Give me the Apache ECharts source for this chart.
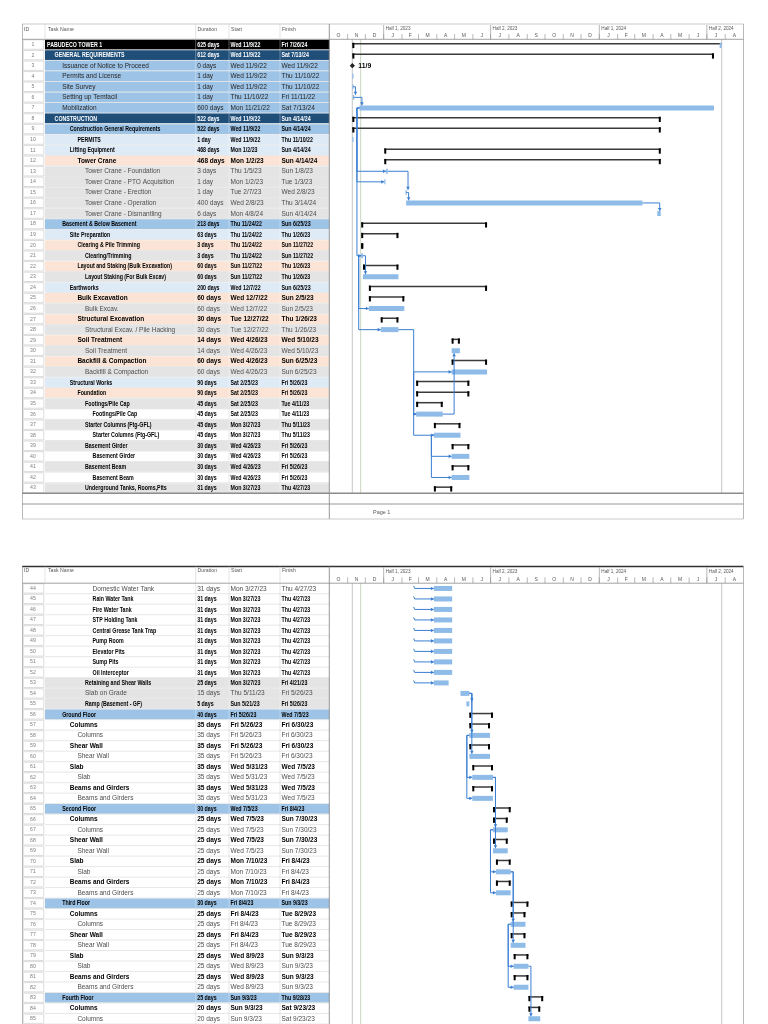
<!DOCTYPE html>
<html><head><meta charset="utf-8">
<script src="https://cdn.jsdelivr.net/npm/echarts@6/dist/echarts.min.js"></script>
<style>html,body{margin:0;padding:0;background:#fff}#c{width:768px;height:1024px}</style>
</head><body><div id="c"></div>
<script>
// ---------------- DATA ----------------
const taskIds = [1,2,3,4,5,6,7,8,9,10,11,12,13,14,15,16,17,18,19,20,21,22,23,24,25,26,27,28,29,30,31,32,33,34,35,36,37,38,39,40,41,42,43,44,45,46,47,48,49,50,51,52,53,54,55,56,57,58,59,60,61,62,63,64,65,66,67,68,69,70,71,72,73,74,75,76,77,78,79,80,81,82,83,84,85];
const taskNames = ['PABUDECO TOWER 1','GENERAL REQUIREMENTS','Issuance of Notice to Proceed','Permits and License','Site Survey','Setting up Temfacil','Mobilization','CONSTRUCTION','Construction General Requirements','PERMITS','Lifting Equipment','Tower Crane','Tower Crane - Foundation','Tower Crane - PTO Acquisition','Tower Crane - Erection','Tower Crane - Operation','Tower Crane - Dismantling','Basement & Below Basement','Site Preparation','Clearing & Pile Trimming','Clearing/Trimming','Layout and Staking (Bulk Excavation)','Layout Staking (For Bulk Excav)','Earthworks','Bulk Excavation','Bulk Excav.','Structural Excavation','Structural Excav. / Pile Hacking','Soil Treatment','Soil Treatment','Backfill & Compaction','Backfill & Compaction','Structural Works','Foundation','Footings/Pile Cap','Footings/Pile Cap','Starter Columns (Ftg-GFL)','Starter Columns (Ftg-GFL)','Basement Girder','Basement Girder','Basement Beam','Basement Beam','Underground Tanks, Rooms,Pits','Domestic Water Tank','Rain Water Tank','Fire Water Tank','STP Holding Tank','Central Grease Tank Trap','Pump Room','Elevator Pits','Sump Pits','Oil Interceptor','Retaining and Shear Walls','Slab on Grade','Ramp (Basement - GF)','Ground Floor','Columns','Columns','Shear Wall','Shear Wall','Slab','Slab','Beams and Girders','Beams and Girders','Second Floor','Columns','Columns','Shear Wall','Shear Wall','Slab','Slab','Beams and Girders','Beams and Girders','Third Floor','Columns','Columns','Shear Wall','Shear Wall','Slab','Slab','Beams and Girders','Beams and Girders','Fourth Floor','Columns','Columns'];
const durations = ['625 days','612 days','0 days','1 day','1 day','1 day','600 days','522 days','522 days','1 day','468 days','468 days','3 days','1 day','1 day','400 days','6 days','213 days','63 days','3 days','3 days','60 days','60 days','200 days','60 days','60 days','30 days','30 days','14 days','14 days','60 days','60 days','90 days','90 days','45 days','45 days','45 days','45 days','30 days','30 days','30 days','30 days','31 days','31 days','31 days','31 days','31 days','31 days','31 days','31 days','31 days','31 days','25 days','15 days','5 days','40 days','35 days','35 days','35 days','35 days','35 days','35 days','35 days','35 days','30 days','25 days','25 days','25 days','25 days','25 days','25 days','25 days','25 days','30 days','25 days','25 days','25 days','25 days','25 days','25 days','25 days','25 days','25 days','20 days','20 days'];
const startText = ['Wed 11/9/22','Wed 11/9/22','Wed 11/9/22','Wed 11/9/22','Wed 11/9/22','Thu 11/10/22','Mon 11/21/22','Wed 11/9/22','Wed 11/9/22','Wed 11/9/22','Mon 1/2/23','Mon 1/2/23','Thu 1/5/23','Mon 1/2/23','Tue 2/7/23','Wed 2/8/23','Mon 4/8/24','Thu 11/24/22','Thu 11/24/22','Thu 11/24/22','Thu 11/24/22','Sun 11/27/22','Sun 11/27/22','Wed 12/7/22','Wed 12/7/22','Wed 12/7/22','Tue 12/27/22','Tue 12/27/22','Wed 4/26/23','Wed 4/26/23','Wed 4/26/23','Wed 4/26/23','Sat 2/25/23','Sat 2/25/23','Sat 2/25/23','Sat 2/25/23','Mon 3/27/23','Mon 3/27/23','Wed 4/26/23','Wed 4/26/23','Wed 4/26/23','Wed 4/26/23','Mon 3/27/23','Mon 3/27/23','Mon 3/27/23','Mon 3/27/23','Mon 3/27/23','Mon 3/27/23','Mon 3/27/23','Mon 3/27/23','Mon 3/27/23','Mon 3/27/23','Mon 3/27/23','Thu 5/11/23','Sun 5/21/23','Fri 5/26/23','Fri 5/26/23','Fri 5/26/23','Fri 5/26/23','Fri 5/26/23','Wed 5/31/23','Wed 5/31/23','Wed 5/31/23','Wed 5/31/23','Wed 7/5/23','Wed 7/5/23','Wed 7/5/23','Wed 7/5/23','Wed 7/5/23','Mon 7/10/23','Mon 7/10/23','Mon 7/10/23','Mon 7/10/23','Fri 8/4/23','Fri 8/4/23','Fri 8/4/23','Fri 8/4/23','Fri 8/4/23','Wed 8/9/23','Wed 8/9/23','Wed 8/9/23','Wed 8/9/23','Sun 9/3/23','Sun 9/3/23','Sun 9/3/23'];
const finishText = ['Fri 7/26/24','Sat 7/13/24','Wed 11/9/22','Thu 11/10/22','Thu 11/10/22','Fri 11/11/22','Sat 7/13/24','Sun 4/14/24','Sun 4/14/24','Thu 11/10/22','Sun 4/14/24','Sun 4/14/24','Sun 1/8/23','Tue 1/3/23','Wed 2/8/23','Thu 3/14/24','Sun 4/14/24','Sun 6/25/23','Thu 1/26/23','Sun 11/27/22','Sun 11/27/22','Thu 1/26/23','Thu 1/26/23','Sun 6/25/23','Sun 2/5/23','Sun 2/5/23','Thu 1/26/23','Thu 1/26/23','Wed 5/10/23','Wed 5/10/23','Sun 6/25/23','Sun 6/25/23','Fri 5/26/23','Fri 5/26/23','Tue 4/11/23','Tue 4/11/23','Thu 5/11/23','Thu 5/11/23','Fri 5/26/23','Fri 5/26/23','Fri 5/26/23','Fri 5/26/23','Thu 4/27/23','Thu 4/27/23','Thu 4/27/23','Thu 4/27/23','Thu 4/27/23','Thu 4/27/23','Thu 4/27/23','Thu 4/27/23','Thu 4/27/23','Thu 4/27/23','Fri 4/21/23','Fri 5/26/23','Fri 5/26/23','Wed 7/5/23','Fri 6/30/23','Fri 6/30/23','Fri 6/30/23','Fri 6/30/23','Wed 7/5/23','Wed 7/5/23','Wed 7/5/23','Wed 7/5/23','Fri 8/4/23','Sun 7/30/23','Sun 7/30/23','Sun 7/30/23','Sun 7/30/23','Fri 8/4/23','Fri 8/4/23','Fri 8/4/23','Fri 8/4/23','Sun 9/3/23','Tue 8/29/23','Tue 8/29/23','Tue 8/29/23','Tue 8/29/23','Sun 9/3/23','Sun 9/3/23','Sun 9/3/23','Sun 9/3/23','Thu 9/28/23','Sat 9/23/23','Sat 9/23/23'];
// outline level of each task
const outlineLevel = [0,1,2,2,2,2,2,1,3,4,3,4,5,5,5,5,5,2,3,4,5,4,5,3,4,5,4,5,4,5,4,5,3,4,5,6,5,6,5,6,5,6,5,6,6,6,6,6,6,6,6,6,5,5,5,2,3,4,3,4,3,4,3,4,2,3,4,3,4,3,4,3,4,2,3,4,3,4,3,4,3,4,2,3,4];
// P project summary, S summary, T task, M milestone
const taskKind = ['P','S','M','T','T','T','T','S','S','T','S','S','T','T','T','T','T','S','S','S','T','S','T','S','S','T','S','T','S','T','S','T','S','S','S','T','S','T','S','T','S','T','S','T','T','T','T','T','T','T','T','T','T','T','T','S','S','T','S','T','S','T','S','T','S','S','T','S','T','S','T','S','T','S','S','T','S','T','S','T','S','T','S','S','T'];
// links: [predecessor, successor, type]
const links = [[5,6,'FS'],[6,7,'FS'],[7,13,'SS'],[7,14,'SS'],[13,15,'FS'],[15,16,'FS'],[16,17,'FS'],[7,21,'SS'],[21,23,'FS'],[21,26,'SS'],[21,28,'SS'],[28,36,'FSL'],[36,32,'SS'],[36,38,'SS'],[36,30,'FS'],[38,40,'SS'],[38,42,'SS'],
  [36,44,'SS'],[36,45,'SS'],[36,46,'SS'],[36,47,'SS'],[36,48,'SS'],[36,49,'SS'],[36,50,'SS'],[36,51,'SS'],[36,52,'SS'],[36,53,'SS'],
  [54,55,'FS'],[54,58,'FS'],[54,60,'FS'],[58,62,'SS'],[58,64,'SS'],[62,67,'FS'],[62,69,'FS'],[67,71,'SS'],[67,73,'SS'],[71,76,'FS'],[71,78,'FS'],[76,80,'SS'],[76,82,'SS'],[80,85,'FS']];
// project start, status date, project finish
const markerDates = ['2022-11-09','2022-11-23','2024-07-26'];
// timescale
const monthStarts = ['2022-10-01','2022-11-01','2022-12-01','2023-01-01','2023-02-01','2023-03-01','2023-04-01','2023-05-01','2023-06-01','2023-07-01','2023-08-01','2023-09-01','2023-10-01','2023-11-01','2023-12-01','2024-01-01','2024-02-01','2024-03-01','2024-04-01','2024-05-01','2024-06-01','2024-07-01','2024-08-01'];
const monthLetters = ['O','N','D','J','F','M','A','M','J','J','A','S','O','N','D','J','F','M','A','M','J','J','A'];
const halfStarts = ['2023-01-01','2023-07-01','2024-01-01','2024-07-01'];
const halfLabels = ['Half 1, 2023','Half 2, 2023','Half 1, 2024','Half 2, 2024'];
const axisStart = '2022-10-01', axisEnd = '2024-09-01';
const page1Ids = taskIds.filter(id => id <= 43);
const page2Ids = taskIds.filter(id => id >= 44);

// ---------------- STYLE ----------------
const rowBand = ['K','N','B','B','B','B','B','N','B','L','L','P','G','G','G','G','G','B','L','P','G','P','G','L','P','G','P','G','P','G','P','G','L','P','G','W','G','W','G','W','G','W','G','W','W','W','W','W','W','W','W','W','G','G','G','B','W','W','W','W','W','W','W','W','B','W','W','W','W','W','W','W','W','B','W','W','W','W','W','W','W','W','B','W','W'];
const rowFont = ['c','c','n','n','n','n','n','c','c','c','c','b','n','n','n','n','n','c','c','c','c','c','c','c','b','n','b','n','b','n','b','n','c','c','c','c','c','c','c','c','c','c','c','n','c','c','c','c','c','c','c','c','c','n','c','c','b','n','b','n','b','n','b','n','c','b','n','b','n','b','n','b','n','c','b','n','b','n','b','n','b','n','c','b','n'];
const BAND = {K:'#000000',N:'#1f4e79',B:'#9dc3e6',L:'#deebf7',P:'#fbe4d5',G:'#e4e4e4',W:null};
const BAR = '#8fbbe8', LINK = '#3b7fd2';
const FF = '"Liberation Sans", Arial, sans-serif';
function fontOf(k){ const f=rowFont[k]; return f==='n' ? '6.5px '+FF : f==='b' ? 'bold 6.5px '+FF : 'bold 6.7px '+FF; }
function colorOf(k){ const b=rowBand[k]; if(b==='K'||b==='N') return '#ffffff'; if(rowFont[k]==='n') return b==='B' ? '#262626' : '#4d4d4d'; return '#000000'; }

const ymd = s => { const p = s.split('-').map(Number); return new Date(p[0], p[1]-1, p[2]).getTime(); };
const parseMS = s => { const p = s.split(' ')[1].split('/').map(Number); return new Date(2000+p[2], p[0]-1, p[1]).getTime(); };
const T0 = ymd(axisStart), T1 = ymd(axisEnd);

// ---------------- RENDERERS ----------------
function tableRender(rows){
  return function(params, api){
    const i = api.value(1); const id = rows[i]; const k = id-1;
    const cs = params.coordSys;
    const y = api.coord([0, i])[1];
    const h = api.size([0, 1])[1];
    const top = y - h/2;
    const X0 = cs.x, cName = X0+23, cDur = X0+173.7, cStart = X0+207, cFin = X0+258, cEnd = cs.x+cs.width;
    const ch = [];
    const bc = BAND[rowBand[k]];
    if (bc) ch.push({type:'rect', shape:{x:cName, y:top+0.4, width:cEnd-cName, height:h-0.8}, style:{fill:bc}});
    ch.push({type:'line', shape:{x1:cName, y1:top+h, x2:cEnd, y2:top+h}, style:{stroke:'#d6d6d6', lineWidth:0.6}});
    [cDur, cStart, cFin].forEach(x => ch.push({type:'line', shape:{x1:x, y1:top, x2:x, y2:top+h}, style:{stroke: bc ? 'rgba(255,255,255,0.55)' : '#d6d6d6', lineWidth:0.6}}));
    ch.push({type:'rect', shape:{x:X0+1.2, y:top+0.6, width:cName-X0-2.4, height:h-1.2}, style:{fill:'#ffffff', stroke:'#c4c4c4', lineWidth:0.6}});
    ch.push({type:'text', style:{text:String(id), x:X0+11, y:y, fill:'#7f7f7f', font:'5.2px '+FF, align:'center', verticalAlign:'middle', textAlign:'center', textVerticalAlign:'middle'}});
    const font = fontOf(k), fill = colorOf(k);
    const sx = rowFont[k] === 'c' ? 0.79 : 1;
    const ts = (t, x) => ({type:'text', x:x, y:y+0.3, scaleX:sx, scaleY:1, style:{text:t, x:0, y:0, fill:fill, font:font, align:'left', verticalAlign:'middle', textAlign:'left', textVerticalAlign:'middle'}});
    ch.push(ts(taskNames[k], cName + 2 + 7.6*outlineLevel[k]));
    ch.push(ts(durations[k], cDur + 1.5));
    ch.push(ts(startText[k], cStart + 1.5));
    ch.push(ts(finishText[k], cFin + 1.5));
    return {type:'group', silent:true, children:ch};
  };
}
function ganttRender(rows){
  return function(params, api){
    const i = api.value(2); const k = rows[i]-1;
    const s = api.coord([api.value(0), i]);
    const e = api.coord([api.value(1), i]);
    const y = s[1];
    const kind = taskKind[k];
    const ch = [];
    if (kind === 'T') {
      ch.push({type:'rect', shape:{x:s[0], y:y-2.5, width:Math.max(e[0]-s[0], 1.2), height:5}, style:{fill:BAR}});
    } else if (kind === 'S' || kind === 'P') {
      const w = Math.max(e[0]-s[0], 2);
      ch.push({type:'rect', shape:{x:s[0], y:y-1.6, width:w, height:1.5}, style:{fill:'#3a3a3a'}});
      ch.push({type:'rect', shape:{x:s[0], y:y-1.8, width:2, height:5.3}, style:{fill:'#000'}});
      ch.push({type:'rect', shape:{x:s[0]+w-2, y:y-1.8, width:2, height:5.3}, style:{fill: kind==='P' ? BAR : '#000'}});
    } else if (kind === 'M') {
      const x = s[0], d = 2.6;
      ch.push({type:'polygon', shape:{points:[[x,y-d],[x+d,y],[x,y+d],[x-d,y]]}, style:{fill:'#222'}});
      const md = startText[k].split(' ')[1].split('/'); 
      ch.push({type:'text', style:{text:md[0]+'/'+md[1], x:x+6, y:y, fill:'#000', font:'bold 6.8px '+FF, align:'left', verticalAlign:'middle', textAlign:'left', textVerticalAlign:'middle'}});
    }
    return {type:'group', silent:true, children:ch};
  };
}
function arrow(x, y, dir){
  const a = 3, b = 1.8;
  let pts;
  if (dir === 'right') pts = [[x,y],[x-a,y-b],[x-a,y+b]];
  else if (dir === 'down') pts = [[x,y],[x-b,y-a],[x+b,y-a]];
  else pts = [[x,y],[x-b,y+a],[x+b,y+a]];
  return {type:'polygon', shape:{points:pts}, style:{fill:LINK}};
}
function poly(pts){ return {type:'polyline', shape:{points:pts}, style:{stroke:LINK, fill:null, lineWidth:1}}; }
function linkRender(rows){
  return function(params, api){
    const L = links[api.value(2)];
    const from = L[0], to = L[1], type = L[2];
    const fi = rows.indexOf(from), ti = rows.indexOf(to);
    if (ti < 0) return null;
    const k1 = from-1, k2 = to-1;
    const rowP = fi >= 0 ? fi : 0;
    const ps = api.coord([parseMS(startText[k1]), rowP]);
    const pe = api.coord([parseMS(finishText[k1]), rowP]);
    const ss = api.coord([parseMS(startText[k2]), ti]);
    const ys = ss[1], HB = 2.6;
    const ch = [];
    if (type === 'FS') {
      if (fi < 0) return null;
      const yp = pe[1];
      const xv = Math.max(pe[0], ss[0]) + 2.5;
      const down = ys > yp;
      const yEnd = down ? ys - HB : ys + HB;
      ch.push(poly([[pe[0], yp],[xv, yp],[xv, yEnd]]));
      ch.push(arrow(xv, yEnd, down ? 'down' : 'up'));
    } else {
      const px = type === 'SS' ? ps[0] : pe[0];
      const xv = type === 'SS' ? ps[0] - 2.5 : ss[0] - 2.5;
      if (fi >= 0) ch.push(poly([[px, ps[1]],[xv, ps[1]],[xv, ys],[ss[0], ys]]));
      else ch.push(poly([[xv, ys-2.5],[xv+1, ys],[ss[0], ys]]));
      ch.push(arrow(ss[0], ys, 'right'));
    }
    return {type:'group', silent:true, children:ch};
  };
}
function markerRender(params, api){
  const cs = params.coordSys;
  const x = api.coord([api.value(0), 0])[0];
  const j = api.value(2);
  return {type:'line', silent:true, shape:{x1:x, y1:cs.y, x2:x, y2:cs.y+cs.height}, style:{stroke: j===1 ? '#d3dccb' : '#cfcfcf', lineWidth:1.2}};
}
function monthRender(params, api){
  const cs = params.coordSys;
  const j = api.value(2);
  const x0 = api.coord([api.value(0), 0])[0];
  const x1 = api.coord([j+1 < monthStarts.length ? ymd(monthStarts[j+1]) : T1, 0])[0];
  const split = cs.y + cs.height*0.56;
  const ch = [];
  if (j > 0) ch.push({type:'line', shape:{x1:x0, y1:split+1.5, x2:x0, y2:cs.y+cs.height}, style:{stroke:'#9a9a9a', lineWidth:0.7}});
  ch.push({type:'text', style:{text:monthLetters[j], x:(x0+x1)/2, y:cs.y+cs.height-3.3, fill:'#595959', font:'5px '+FF, align:'center', verticalAlign:'middle', textAlign:'center', textVerticalAlign:'middle'}});
  return {type:'group', silent:true, children:ch};
}
function halfRender(params, api){
  const cs = params.coordSys;
  const j = api.value(2);
  const x0 = api.coord([api.value(0), 0])[0];
  return {type:'group', silent:true, children:[
    {type:'line', shape:{x1:x0, y1:cs.y+1, x2:x0, y2:cs.y+cs.height}, style:{stroke:'#9a9a9a', lineWidth:0.7}},
    {type:'text', style:{text:halfLabels[j], x:x0+2, y:cs.y+5, fill:'#595959', font:'4.6px '+FF, align:'left', verticalAlign:'middle', textAlign:'left', textVerticalAlign:'middle'}}
  ]};
}

// ---------------- OPTION ----------------
const RH = 10.558;
const P1 = {top:39.3, hTop:24}, P2 = {top:583.2, hTop:566.5};
const GL = 22, GD = 329.3, GR = 768-743.5;
function pageSeries(rows, gi, xi){
  const ganttData = rows.map((id,i) => [parseMS(startText[id-1]), parseMS(finishText[id-1]), i]);
  const linkData = [];
  links.forEach((L, li) => { const ti = rows.indexOf(L[1]); if (ti >= 0) linkData.push([parseMS(startText[L[1]-1]), ti, li]); });
  return [
    {type:'custom', xAxisIndex:xi, yAxisIndex:xi, data:rows.map((id,i)=>[0,i]), encode:{x:0,y:1}, renderItem:tableRender(rows), z:2},
    {type:'custom', xAxisIndex:xi+1, yAxisIndex:xi+1, data:markerDates.map((d,j)=>[ymd(d),0,j]), encode:{x:0,y:1}, renderItem:markerRender, z:1},
    {type:'custom', xAxisIndex:xi+1, yAxisIndex:xi+1, data:ganttData, encode:{x:[0,1], y:2}, renderItem:ganttRender(rows), z:3},
    {type:'custom', xAxisIndex:xi+1, yAxisIndex:xi+1, data:linkData, encode:{x:0, y:1}, renderItem:linkRender(rows), z:4},
    {type:'custom', xAxisIndex:xi+2, yAxisIndex:xi+2, data:monthStarts.map((d,j)=>[ymd(d),0,j]), encode:{x:0,y:1}, renderItem:monthRender, z:3},
    {type:'custom', xAxisIndex:xi+2, yAxisIndex:xi+2, data:halfStarts.map((d,j)=>[ymd(d),0,j]), encode:{x:0,y:1}, renderItem:halfRender, z:3}
  ];
}
function axesFor(rows, gi){
  const cat = rows.map(String);
  return {
    x:[{gridIndex:gi, type:'value', min:0, max:1, show:false},
       {gridIndex:gi+1, type:'time', min:T0, max:T1, show:false},
       {gridIndex:gi+2, type:'time', min:T0, max:T1, show:false}],
    y:[{gridIndex:gi, type:'category', data:cat, inverse:true, show:false},
       {gridIndex:gi+1, type:'category', data:cat, inverse:true, show:false},
       {gridIndex:gi+2, type:'value', min:0, max:1, show:false}]
  };
}
const a1 = axesFor(page1Ids, 0), a2 = axesFor(page2Ids, 3);
const h1 = page1Ids.length*RH, h2 = page2Ids.length*RH;

function L(x1,y1,x2,y2,c,w){ return {type:'line', silent:true, shape:{x1,y1,x2,y2}, style:{stroke:c, lineWidth:w||1}, z:10}; }
function T(t,x,y,size,c,align){ return {type:'text', silent:true, x:x, y:y, style:{text:t, font:size+'px '+FF, fill:c||'#595959', textAlign:align||'left', textVerticalAlign:'middle', align:align||'left', verticalAlign:'middle'}, z:10}; }
function headerEls(P, bottom, ty){
  const hb = P.top;
  return [
    L(GL, hb, 743.5, hb, '#8c8c8c', 0.8),
    L(45, P.hTop, 45, hb, '#d0d0d0', 0.6), L(195.7, P.hTop, 195.7, hb, '#d0d0d0', 0.6), L(229, P.hTop, 229, hb, '#d0d0d0', 0.6), L(280, P.hTop, 280, hb, '#d0d0d0', 0.6),
    L(GD, P.hTop, GD, bottom, '#8c8c8c', 0.9),
    L(GL+0.5, P.hTop, GL+0.5, bottom, '#a6a6a6', 0.8),
    L(743.5, P.hTop, 743.5, bottom, '#a6a6a6', 0.8),
    T('ID', 24, ty, 5.2), T('Task Name', 48, ty, 5.2), T('Duration', 197.5, ty, 5.2), T('Start', 231, ty, 5.2), T('Finish', 282, ty, 5.2)
  ];
}
const graphicEls = [].concat(
  [L(GL, 24, 743.5, 24, '#bdbdbd', 0.8)],
  headerEls(P1, 519, 29.5),
  [L(GL, P1.top+h1, 743.5, P1.top+h1, '#8c8c8c', 1.4), L(GL, 504, 743.5, 504, '#8c8c8c', 0.9), L(GL, 519, 743.5, 519, '#bdbdbd', 0.8), T('Page 1', 373, 512, 5.5)],
  [L(GL, 566.5, 743.5, 566.5, '#333333', 1.4)],
  headerEls(P2, 1024, 570.5)
);

const option = {
  animation:false,
  backgroundColor:'#ffffff',
  grid:[
    {left:GL, top:P1.top, width:GD-GL, height:h1},
    {left:GD, top:P1.top, right:GR, height:h1},
    {left:GD, top:P1.hTop, right:GR, height:P1.top-P1.hTop},
    {left:GL, top:P2.top, width:GD-GL, height:h2},
    {left:GD, top:P2.top, right:GR, height:h2},
    {left:GD, top:P2.hTop, right:GR, height:P2.top-P2.hTop}
  ],
  xAxis: a1.x.concat(a2.x),
  yAxis: a1.y.concat(a2.y),
  series: pageSeries(page1Ids, 0, 0).concat(pageSeries(page2Ids, 3, 3)),
  graphic:{elements:graphicEls}
};
const chart = echarts.init(document.getElementById('c'), null, {renderer:'canvas', width:768, height:1024});
chart.setOption(option);
</script>
</body></html>
